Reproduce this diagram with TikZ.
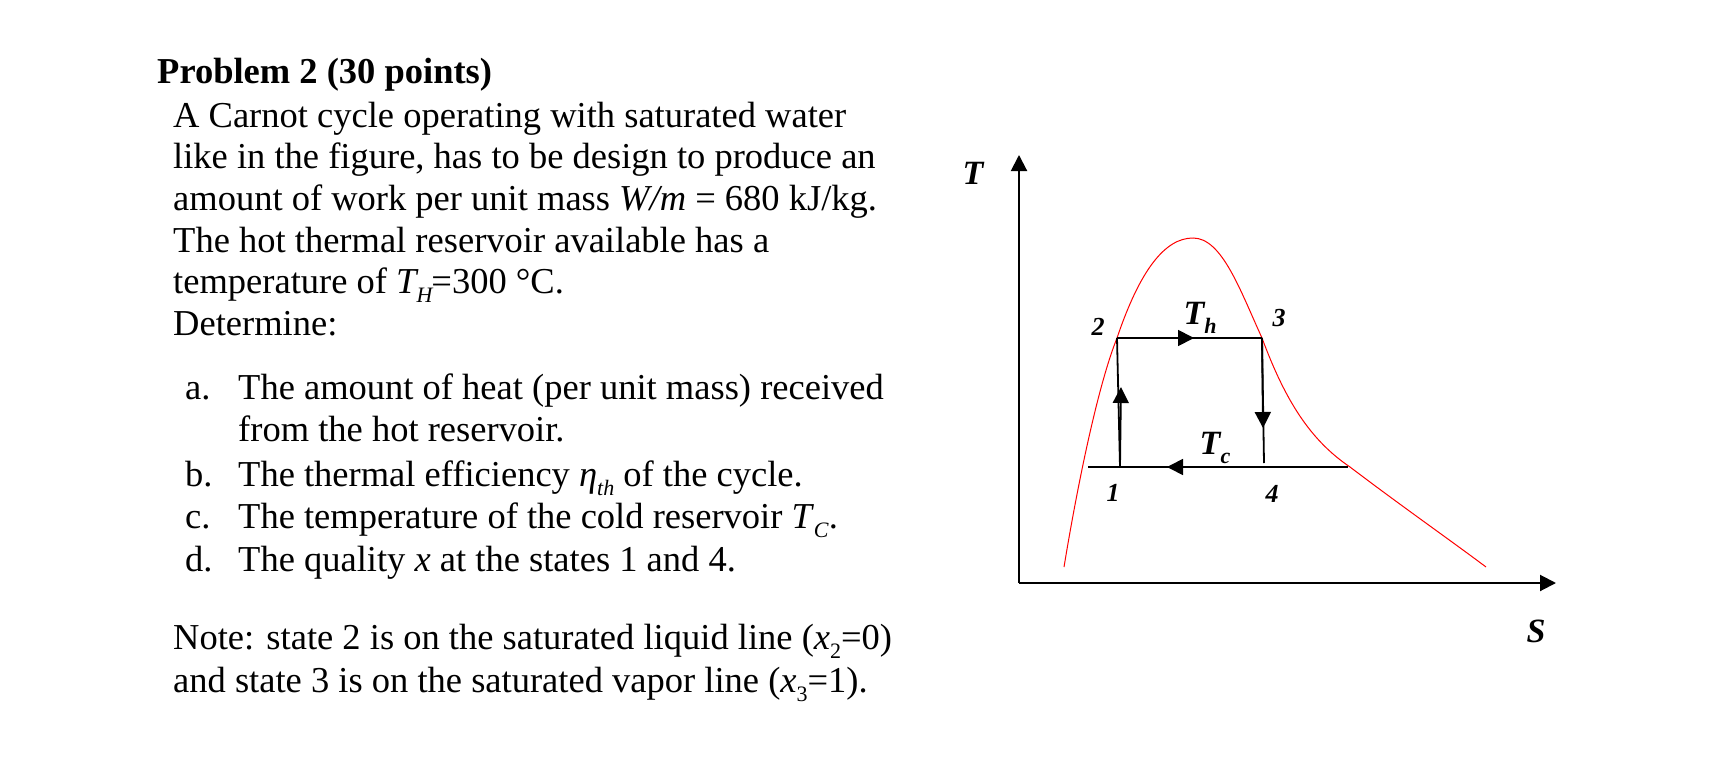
\documentclass[tikz,border=0pt]{standalone}
\usepackage{fontspec}
\setmainfont{Liberation Serif}
\usetikzlibrary{arrows.meta}
\newcommand{\sub}[1]{\raisebox{-0.25em}{\fontsize{22}{22}\selectfont #1}}
\begin{document}
\begin{tikzpicture}[x=1pt,y=-1pt,
  txt/.style={anchor=base west,inner sep=0pt,font=\fontsize{36.5}{40}\selectfont},
  lbl/.style={inner sep=0pt,font=\fontsize{26}{30}\selectfont\bfseries\itshape},
  big/.style={inner sep=0pt,font=\fontsize{34}{36}\selectfont\bfseries\itshape},
  ax/.style={line width=2pt,-{Triangle[length=16pt,width=16pt]}},
  cyc/.style={line width=1.8pt},
  tip/.style={line width=1.8pt,-{Triangle[length=16pt,width=16pt]}}]
\useasboundingbox (0,0) rectangle (1722,768);
% text
\node[txt,font=\fontsize{36.5}{40}\selectfont\bfseries] (title) at (157,84) {Problem 2 (30 points)};
\node[txt] (l1) at (173,127) {A Carnot cycle operating with saturated water};
\node[txt] (l2) at (173,168) {like in the figure, has to be design to produce an};
\node[txt] (l3) at (173,210) {amount of work per unit mass \textit{W/m} = 680 kJ/kg.};
\node[txt] (l4) at (173,252) {The hot thermal reservoir available has a};
\node[txt] (l5) at (173,293) {temperature of \textit{T}\kern-2pt\sub{\textit{H}}\kern-2pt=300 °C.};
\node[txt] (l6) at (173,335) {Determine:};
\node[txt] (a) at (185,399) {a.};
\node[txt] (a1) at (238,399) {The amount of heat (per unit mass) received};
\node[txt] (a2) at (238,441) {from the hot reservoir.};
\node[txt] (b) at (185,486) {b.};
\node[txt] (b1) at (238,486) {The thermal efficiency \textit{η}\sub{\textit{th}} of the cycle.};
\node[txt] (c) at (185,528) {c.};
\node[txt] (c1) at (238,528) {The temperature of the cold reservoir \textit{T}\sub{\textit{C}}.};
\node[txt] (d) at (185,571) {d.};
\node[txt] (d1) at (238,571) {The quality \textit{x} at the states 1 and 4.};
\node[txt] (n1) at (173,649) {Note: state 2 is on the saturated liquid line (\textit{x}\sub{2}=0)};
\node[txt] (n2) at (173,692) {and state 3 is on the saturated vapor line (\textit{x}\sub{3}=1).};
% axes
\coordinate (O) at (1019,583);
\coordinate (Ty) at (1019,155);
\coordinate (Sx) at (1556,583);
\draw[ax] (O) -- (Ty);
\draw[ax] (O) -- (Sx);
\node[big] (T) at (973,173) {T};
\node[big] (S) at (1536,631) {S};
% dome
\draw[red,line width=1pt] (1064,567) .. controls (1080,470) and (1100,380) .. (1117,338)
  .. controls (1140,270) and (1165,238) .. (1193,238)
  .. controls (1222,238) and (1240,290) .. (1262,338)
  .. controls (1285,400) and (1310,440) .. (1350,467)
  .. controls (1400,505) and (1450,540) .. (1486,567);
% cycle
\coordinate (p1) at (1120,467);
\coordinate (p2) at (1117,338);
\coordinate (p3) at (1262,338);
\coordinate (p4) at (1264,463);
\coordinate (bl) at (1088,467);
\coordinate (br) at (1348,467);
\draw[cyc] (p2) -- (p3);
\draw[cyc] (p1) -- (p2);
\draw[cyc] (p3) -- (p4);
\draw[line width=2.2pt] (bl) -- (br);
\coordinate (a12) at (1121,387);
\coordinate (a23) at (1194,338);
\coordinate (a34) at (1263,428);
\coordinate (a41) at (1167,467);
\draw[tip] (p1) -- (a12);
\draw[tip] (p2) -- (a23);
\draw[tip] (p3) -- (a34);
\draw[tip] (p4 |- bl) -- (a41);
% labels
\node[lbl] (L2) at (1098,327) {2};
\node[lbl] (L3) at (1279,318) {3};
\node[lbl] (L1) at (1113,493) {1};
\node[lbl] (L4) at (1272,494) {4};
\node[big] (Th) at (1200,318) {T\sub{\textit{h}}};
\node[big] (Tc) at (1215,448) {T\sub{\textit{c}}};
\end{tikzpicture}
\end{document}
